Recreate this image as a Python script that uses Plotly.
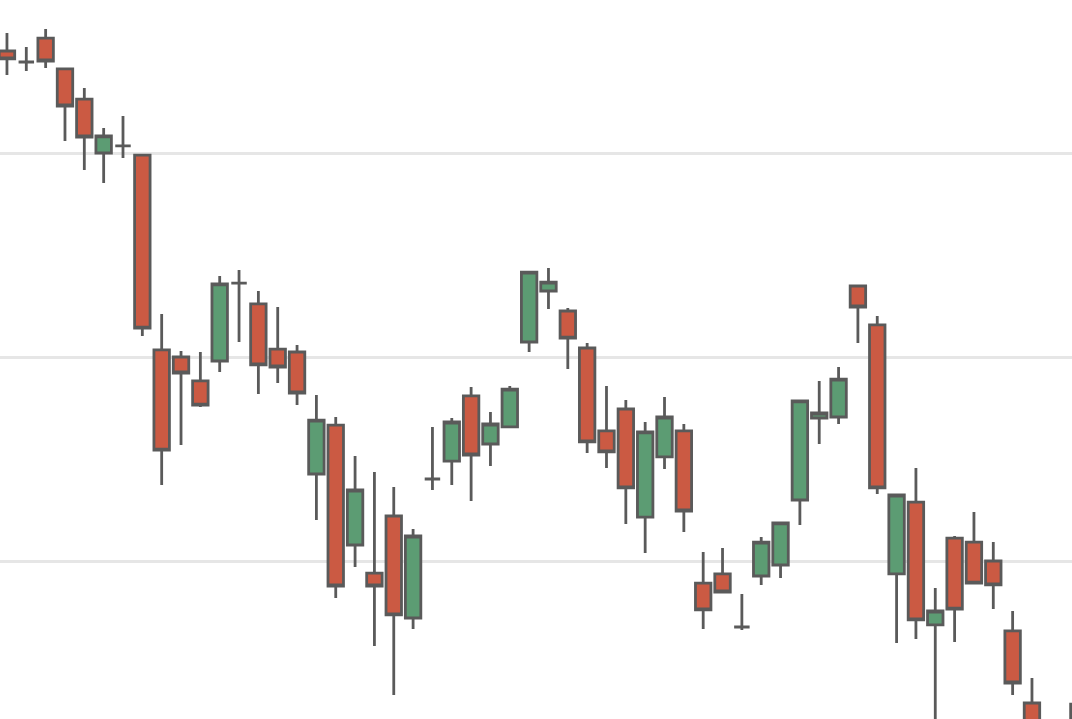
import plotly.graph_objects as go

# daily bars (price units, gridlines at 20 / 40 / 60)
opens = [70.00, 68.92, 71.27, 68.24, 65.29, 60.00, 60.69, 59.80, 40.69, 40.00,
         37.65, 39.61, 47.25, 45.20, 40.78, 40.49, 28.53, 33.33, 21.57, 18.82,
         24.41, 14.41, 28.04, 29.80, 36.18, 31.47, 33.14, 41.47, 46.47, 44.51,
         40.88, 32.75, 34.90, 24.31, 30.20, 32.75, 17.84, 18.73, 13.53, 18.53,
         19.61, 25.98, 34.02, 34.12, 46.96, 43.14, 18.73, 25.78, 13.73, 22.25,
         21.86, 20.00, 13.14, 6.08, 3.20, 2.50]
highs = [71.76, 70.39, 72.16, 68.24, 66.37, 62.45, 63.63, 59.80, 44.22, 40.59,
         40.49, 47.94, 48.53, 46.47, 44.90, 41.18, 36.27, 34.12, 30.29, 28.73,
         27.25, 23.14, 33.14, 34.02, 37.06, 34.61, 37.16, 48.43, 48.73, 44.80,
         41.37, 37.16, 35.78, 33.63, 36.08, 33.43, 20.88, 21.27, 16.76, 22.35,
         23.73, 35.69, 37.65, 39.02, 47.06, 44.02, 26.57, 29.12, 17.35, 22.45,
         24.80, 21.86, 15.10, 8.53, 3.80, 6.10]
lows = [67.65, 68.04, 68.33, 61.18, 58.33, 57.06, 59.51, 42.06, 27.45, 31.37,
        35.10, 38.53, 41.47, 36.37, 37.45, 35.29, 24.02, 16.37, 19.41, 11.67,
        6.86, 13.33, 26.96, 27.45, 25.88, 29.31, 33.14, 40.49, 44.71, 38.82,
        30.59, 29.12, 23.63, 20.78, 29.02, 22.84, 13.33, 16.96, 13.24, 17.65,
        18.33, 23.53, 31.47, 33.43, 41.37, 26.57, 11.96, 12.35, 3.00, 12.06,
        17.84, 15.29, 6.86, 0.50, 0.80, 1.90]
closes = [69.22, 68.92, 69.02, 64.61, 61.57, 61.67, 60.69, 42.84, 30.88, 38.43,
          35.29, 47.16, 47.25, 39.22, 39.02, 36.47, 33.82, 17.55, 26.96, 17.55,
          14.71, 22.45, 28.04, 33.63, 30.39, 33.43, 36.86, 48.33, 47.35, 41.86,
          31.67, 30.69, 27.16, 32.65, 34.12, 24.90, 15.20, 16.96, 13.53, 21.86,
          23.73, 35.69, 34.51, 37.84, 44.90, 27.16, 26.47, 14.22, 15.10, 15.29,
          17.84, 17.65, 8.04, 2.00, 1.50, 4.20]
days = list(range(len(opens)))

UP = "#5c9c73"
DOWN = "#cb5a43"
EDGE = "#5a5a5a"

fig = go.Figure(go.Candlestick(
    x=days, open=opens, high=highs, low=lows, close=closes,
    increasing=dict(fillcolor=UP, line=dict(color=EDGE, width=2.8)),
    decreasing=dict(fillcolor=DOWN, line=dict(color=EDGE, width=2.8)),
    hoverinfo="skip",
))

fig.update_layout(
    width=1072, height=719,
    margin=dict(l=0, r=0, t=0, b=0),
    paper_bgcolor="white", plot_bgcolor="white",
    showlegend=False,
    boxgap=0.2, boxgroupgap=0,
    xaxis=dict(range=[-0.36, 55.07], showgrid=False, zeroline=False,
               showticklabels=False, ticks="", rangeslider=dict(visible=False)),
    yaxis=dict(range=[4.51, 75.0], tickvals=[20, 40, 60], showgrid=True,
               gridcolor="#e6e6e6", gridwidth=2.5, zeroline=False,
               showticklabels=False, ticks=""),
)

# page body has an 8px default margin, drop it so the chart sits at 0,0
fig.write_html("out.html", config={"displayModeBar": False},
               post_script="document.body.style.margin='0px';")
